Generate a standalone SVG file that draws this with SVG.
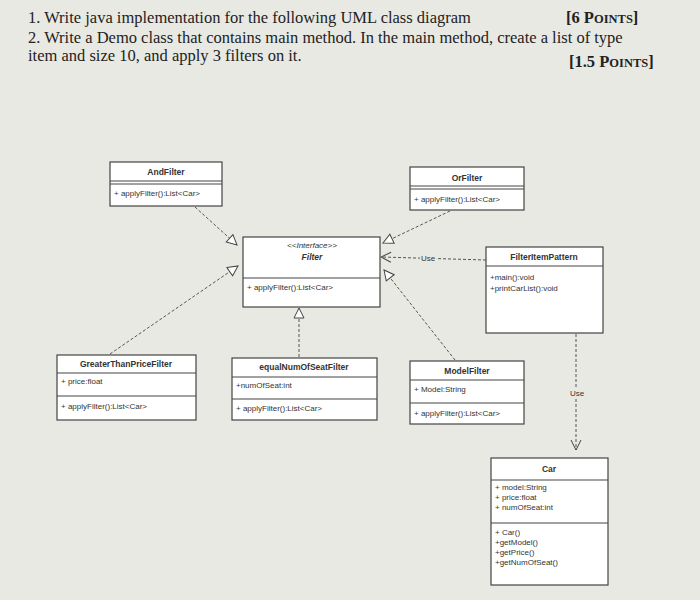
<svg xmlns="http://www.w3.org/2000/svg" width="700" height="600" viewBox="0 0 700 600">
<style>
.t{font-family:"Liberation Serif",serif;font-size:16.5px;fill:#222}
.b{fill:#fff;stroke:#444;stroke-width:1.2}
.d{stroke:#444;stroke-width:1}
.n{font-family:"Liberation Sans",Arial,sans-serif;font-size:8.5px;font-weight:bold;fill:#333;text-anchor:middle}
.m{font-family:"Liberation Sans",Arial,sans-serif;font-size:8px;fill:#333}
.c{stroke:#555;stroke-width:1;stroke-dasharray:3,2;fill:none}
</style>
<defs>
<marker id="tri" viewBox="0 0 12 12" refX="11" refY="6" markerWidth="12" markerHeight="12" markerUnits="userSpaceOnUse" orient="auto"><path d="M1,1 L11,6 L1,11 Z" fill="#fff" stroke="#444"/></marker>
<marker id="open" viewBox="0 0 12 12" refX="11" refY="6" markerWidth="12" markerHeight="12" markerUnits="userSpaceOnUse" orient="auto"><path d="M1,1 L11,6 L1,11" fill="none" stroke="#444"/></marker>
</defs>
<rect width="700" height="600" fill="#e9e9e4"/>
<text class="t" x="28" y="23">1.  Write java implementation for the following UML class diagram</text>
<text class="t" x="566" y="23" font-weight="bold">[6 P<tspan font-size="12.5">OINTS</tspan>]</text>
<text class="t" x="28" y="43">2. Write a Demo class that contains main method. In the main method, create a list of type</text>
<text class="t" x="28" y="61">item and size 10, and apply 3 filters on it.</text>
<text class="t" x="569" y="67" font-weight="bold">[1.5 P<tspan font-size="12.5">OINTS</tspan>]</text>
<g id="connectors">
<path class="c" d="M195,207 L237,245" marker-end="url(#tri)"/>
<path class="c" d="M110,354 L238,266" marker-end="url(#tri)"/>
<path class="c" d="M299,357 L299,308" marker-end="url(#tri)"/>
<path class="c" d="M450,211 L383,243" marker-end="url(#tri)"/>
<path class="c" d="M455,360 L384,270" marker-end="url(#tri)"/>
<path class="c" d="M486,260 L381,257" marker-end="url(#open)"/>
<rect x="420" y="253" width="17" height="10" fill="#e9e9e4"/>
<text class="m" x="421" y="261" fill="#555">Use</text>
<path class="c" d="M576,334 L576,450" marker-end="url(#open)"/>
<rect x="569" y="388" width="17" height="10" fill="#e9e9e4"/>
<text class="m" x="570" y="396">Use</text>
</g>
<g id="AndFilter">
<rect class="b" x="110" y="162" width="112" height="44"/>
<line class="d" x1="110" y1="181" x2="222" y2="181"/><line class="d" x1="110" y1="184" x2="222" y2="184"/>
<text class="n" x="166" y="175">AndFilter</text>
<text class="m" x="114" y="196">+ applyFilter():List&lt;Car&gt;</text>
</g>
<g id="Filter">
<rect class="b" x="243" y="237" width="137" height="70"/>
<line class="d" x1="243" y1="278" x2="380" y2="278"/>
<text class="m" x="312" y="248" text-anchor="middle" font-style="italic">&lt;&lt;Interface&gt;&gt;</text>
<text class="n" x="312" y="260" font-style="italic" font-weight="normal">Filter</text>
<text class="m" x="247" y="290">+ applyFilter():List&lt;Car&gt;</text>
</g>
<g id="OrFilter">
<rect class="b" x="410" y="167" width="114" height="43"/>
<line class="d" x1="410" y1="186" x2="524" y2="186"/><line class="d" x1="410" y1="189" x2="524" y2="189"/>
<text class="n" x="467" y="181">OrFilter</text>
<text class="m" x="414" y="202">+ applyFilter():List&lt;Car&gt;</text>
</g>
<g id="FilterItemPattern">
<rect class="b" x="486" y="247" width="117" height="86"/>
<line class="d" x1="486" y1="266" x2="603" y2="266"/>
<text class="n" x="544" y="260">FilterItemPattern</text>
<text class="m" x="490" y="280">+main():void</text>
<text class="m" x="490" y="291">+printCarList():void</text>
</g>
<g id="GreaterThanPriceFilter">
<rect class="b" x="57" y="355" width="139" height="65"/>
<line class="d" x1="57" y1="373" x2="196" y2="373"/><line class="d" x1="57" y1="396" x2="196" y2="396"/>
<text class="n" x="126" y="367">GreaterThanPriceFilter</text>
<text class="m" x="61" y="384">+ price:float</text>
<text class="m" x="61" y="409">+ applyFilter():List&lt;Car&gt;</text>
</g>
<g id="equalNumOfSeatFilter">
<rect class="b" x="232" y="358" width="145" height="62"/>
<line class="d" x1="232" y1="377" x2="377" y2="377"/><line class="d" x1="232" y1="399" x2="377" y2="399"/>
<text class="n" x="304" y="370">equalNumOfSeatFilter</text>
<text class="m" x="236" y="388">+numOfSeat:int</text>
<text class="m" x="236" y="411">+ applyFilter():List&lt;Car&gt;</text>
</g>
<g id="ModelFilter">
<rect class="b" x="410" y="361" width="114" height="63"/>
<line class="d" x1="410" y1="380" x2="524" y2="380"/><line class="d" x1="410" y1="403" x2="524" y2="403"/>
<text class="n" x="467" y="374">ModelFilter</text>
<text class="m" x="414" y="392">+ Model:String</text>
<text class="m" x="414" y="416">+ applyFilter():List&lt;Car&gt;</text>
</g>
<g id="Car">
<rect class="b" x="491" y="458" width="117" height="127"/>
<line class="d" x1="491" y1="480" x2="608" y2="480"/><line class="d" x1="491" y1="523" x2="608" y2="523"/>
<text class="n" x="549" y="472">Car</text>
<text class="m" x="495" y="490">+ model:String</text>
<text class="m" x="495" y="500">+ price:float</text>
<text class="m" x="495" y="510">+ numOfSeat:int</text>
<text class="m" x="495" y="535">+ Car()</text>
<text class="m" x="495" y="545">+getModel()</text>
<text class="m" x="495" y="555">+getPrice()</text>
<text class="m" x="495" y="565">+getNumOfSeat()</text>
</g>
</svg>
